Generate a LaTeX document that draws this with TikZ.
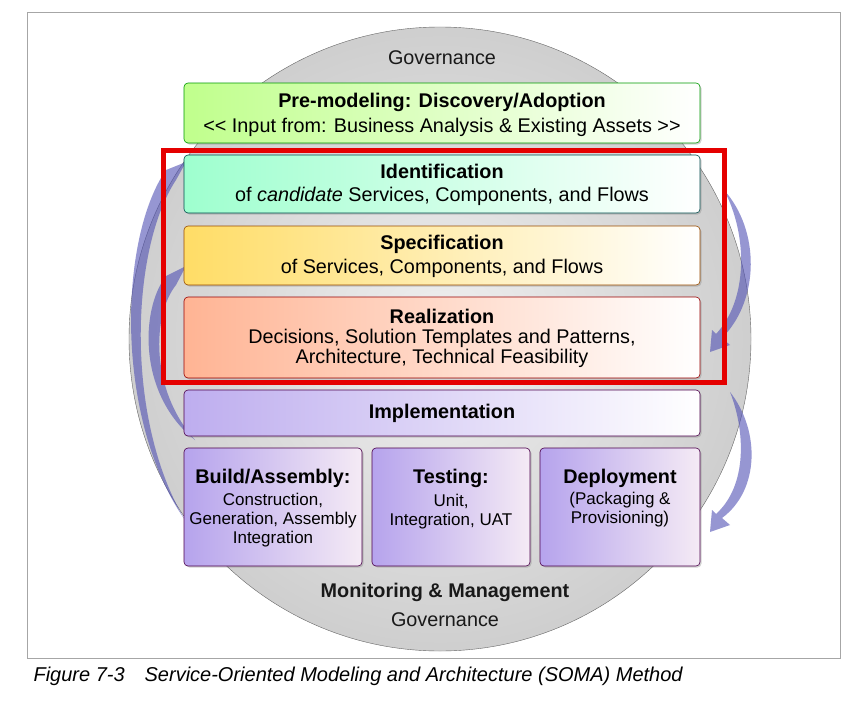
\documentclass[tikz,border=0pt]{standalone}
\usepackage{fontspec}
\setmainfont{Liberation Sans}
\usetikzlibrary{arrows.meta,shadows}
\definecolor{arr}{RGB}{80,80,180}
\begin{document}
\begin{tikzpicture}[x=1pt,y=-1pt,
  box/.style={rounded corners=4pt,draw=#1!60!black,line width=0.6pt,drop shadow={opacity=0.35,shadow xshift=1.5pt,shadow yshift=-1.5pt}},
  ttl/.style={font=\fontsize{19.8}{23}\selectfont\bfseries,align=center},
  sub/.style={font=\fontsize{19.8}{22}\selectfont,align=center},
  sml/.style={font=\fontsize{17}{19}\selectfont,align=center},
  cyc/.style={draw=none,fill=arr,opacity=0.6}]
\useasboundingbox (0,0) rectangle (861,701);
\fill[white] (0,0) rectangle (861,701);
\draw[gray!70,line width=0.8pt] (27,12) rectangle (840,658);
% circle
\shade[inner color=gray!12,outer color=gray!38,draw=gray!80!black] (440,339) ellipse [x radius=311,y radius=312];
% arrows
\fill[cyc] (185,520) .. controls (125,420) and (130,250) .. (176,180) -- (186,162) -- (166,170) .. controls (118,240) and (115,420) .. cycle;
\fill[cyc] (195,440) .. controls (150,390) and (152,315) .. (176,285) -- (186,266) -- (166,276) .. controls (140,310) and (138,395) .. cycle;
\fill[cyc] (724,190) .. controls (760,230) and (760,300) .. (722,338) -- (730,345) -- (710,352) -- (712,330) -- (716,334) .. controls (748,300) and (748,235) .. cycle;
\fill[cyc] (730,392) .. controls (760,430) and (760,490) .. (722,518) -- (730,525) -- (710,532) -- (712,510) -- (716,514) .. controls (748,485) and (745,430) .. cycle;
% boxes
\node[box=green,left color=green!40!lime!45!white,right color=white,minimum width=516pt,minimum height=60pt] (pre) at (442,113) {};
\node[ttl] at (442,102) {Pre-modeling: Discovery/Adoption};
\node[sub] at (442,127) {{<}{<} Input from: Business Analysis \& Existing Assets {>}{>}};
\node[box=teal,left color=cyan!50!green!38!white,right color=white,minimum width=516pt,minimum height=58pt] (ide) at (442,184) {};
\node[ttl] at (442,171) {Identification};
\node[sub] at (442,196) {of \textit{candidate} Services, Components, and Flows};
\node[box=orange,left color=orange!45!yellow!60!white,right color=white,minimum width=516pt,minimum height=59pt] (spe) at (442,255.5) {};
\node[ttl] at (442,244) {Specification};
\node[sub] at (442,268) {of Services, Components, and Flows};
\node[box=red,left color=red!40!orange!42!white,right color=white,minimum width=516pt,minimum height=81pt] (rea) at (442,337.5) {};
\node[ttl] at (442,316) {Realization};
\node[sub] at (442,338) {Decisions, Solution Templates and Patterns,};
\node[sub] at (442,358) {Architecture, Technical Feasibility};
\node[box=violet,left color=violet!40!blue!32!white,right color=white,minimum width=516pt,minimum height=46pt] (imp) at (442,413) {};
\node[ttl] at (442,413) {Implementation};
\node[box=violet,left color=violet!40!blue!36!white,right color=violet!8!white,minimum width=178pt,minimum height=118pt] (bld) at (273,507) {};
\node[ttl] at (273,478) {Build/Assembly:};
\node[sml] at (273,520) {Construction,\\Generation, Assembly\\Integration};
\node[box=violet,left color=violet!40!blue!36!white,right color=violet!8!white,minimum width=158pt,minimum height=118pt] (tst) at (451,507) {};
\node[ttl] at (451,478) {Testing:};
\node[sml] at (451,512) {Unit,\\Integration, UAT};
\node[box=violet,left color=violet!40!blue!36!white,right color=violet!8!white,minimum width=160pt,minimum height=118pt] (dep) at (620,507) {};
\node[ttl] at (620,478) {Deployment};
\node[sml] at (620,510) {(Packaging \&\\Provisioning)};
% red frame
\draw[red!90!black,line width=5pt] (163,150) rectangle (724,382);
% labels
\node[sub,gray!20!black] (g1) at (442,58) {Governance};
\node[ttl,gray!20!black] (mm) at (445,592) {Monitoring \& Management};
\node[sub,gray!20!black] (g2) at (445,620) {Governance};
\node[font=\fontsize{20}{23}\selectfont\itshape,anchor=west] (cap) at (30,676) {Figure 7-3\quad Service-Oriented Modeling and Architecture (SOMA) Method};
\end{tikzpicture}
\end{document}
